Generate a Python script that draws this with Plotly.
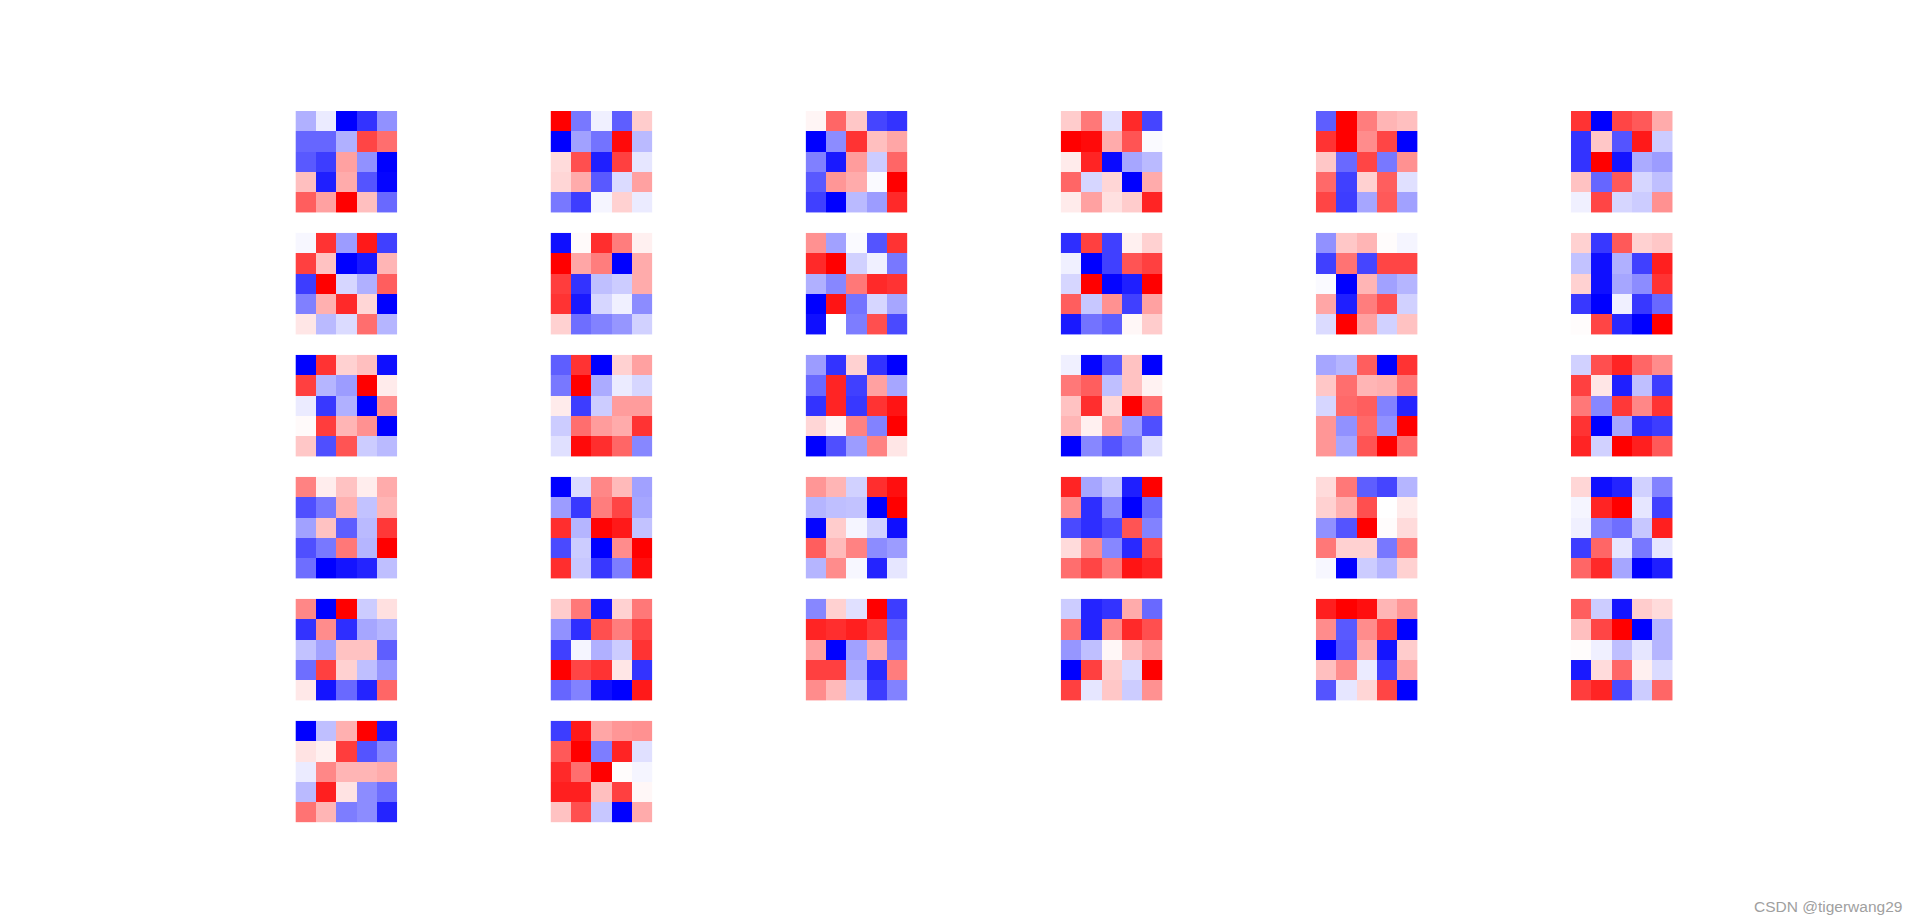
import plotly.graph_objects as go

# 32 learned 5x5 filters (values on a -1..1 scale, rows top to bottom), in grid order
filter_01 = [[-0.31, -0.08, -1.0, -0.8, -0.43], [-0.6, -0.6, -0.31, 0.73, 0.57], [-0.65, -0.76, 0.37, -0.43, -1.0], [0.25, -0.88, 0.33, -0.67, -0.98], [0.63, 0.37, 1.0, 0.25, -0.59]]
filter_02 = [[1.0, -0.53, -0.06, -0.63, 0.2], [-1.0, -0.37, -0.55, 0.96, -0.27], [0.14, 0.69, -0.88, 0.75, -0.1], [0.16, 0.33, -0.65, -0.14, 0.37], [-0.53, -0.76, -0.04, 0.18, -0.08]]
filter_03 = [[0.04, 0.6, 0.22, -0.73, -0.8], [-1.0, -0.45, 0.8, 0.25, 0.35], [-0.5, -0.9, 0.39, -0.2, 0.6], [-0.65, 0.41, 0.33, -0.02, 1.0], [-0.75, -1.0, -0.27, -0.39, 0.84]]
filter_04 = [[0.2, 0.53, -0.12, 0.84, -0.73], [1.0, 0.96, 0.33, 0.67, -0.02], [0.08, 0.86, -0.96, -0.35, -0.27], [0.6, -0.16, 0.16, -1.0, 0.33], [0.08, 0.37, 0.12, 0.2, 0.86]]
filter_05 = [[-0.63, 1.0, 0.51, 0.29, 0.25], [0.8, 1.0, 0.45, 0.73, -1.0], [0.22, -0.59, 0.73, -0.53, 0.43], [0.59, -0.75, 0.18, 0.63, -0.12], [0.73, -0.76, -0.35, 0.65, -0.37]]
filter_06 = [[0.8, -1.0, 0.73, 0.65, 0.33], [-0.8, 0.22, -0.67, 0.9, -0.2], [-0.8, 1.0, -0.92, -0.33, -0.39], [0.24, -0.6, 0.65, -0.16, -0.25], [-0.06, 0.73, -0.16, -0.2, 0.43]]
filter_07 = [[-0.03, 0.8, -0.39, 0.9, -0.75], [0.75, 0.24, -1.0, -0.9, 0.29], [-0.76, 1.0, -0.16, -0.31, 0.63], [-0.5, 0.31, 0.84, 0.16, -1.0], [0.1, -0.27, -0.14, 0.57, -0.29]]
filter_08 = [[-0.94, 0.02, 0.82, 0.51, 0.06], [1.0, 0.35, 0.51, -1.0, 0.33], [0.76, -0.8, -0.25, -0.2, 0.33], [0.8, -0.9, -0.16, -0.06, -0.45], [0.18, -0.57, -0.49, -0.41, -0.18]]
filter_09 = [[0.43, -0.37, -0.02, -0.67, 0.8], [0.84, 1.0, -0.18, -0.06, -0.53], [-0.31, -0.47, 0.53, 0.84, 0.8], [-1.0, 0.92, -0.55, -0.16, -0.35], [-0.94, 0.0, -0.51, 0.69, -0.71]]
filter_10 = [[-0.82, 0.75, -0.75, 0.06, 0.18], [-0.06, -1.0, -0.75, 0.67, 0.75], [-0.16, 1.0, -0.98, -0.88, 1.0], [0.63, -0.22, 0.43, -0.75, 0.37], [-0.9, -0.55, -0.63, 0.03, 0.2]]
filter_11 = [[-0.43, 0.22, 0.29, 0.01, -0.04], [-0.75, 0.55, -0.73, 0.73, 0.73], [-0.02, -1.0, 0.29, -0.37, -0.29], [0.35, -0.88, 0.51, 0.69, -0.18], [-0.14, 1.0, 0.37, -0.18, 0.24]]
filter_12 = [[0.18, -0.78, 0.65, 0.18, 0.22], [-0.24, -0.94, -0.31, -0.75, 0.88], [0.18, -0.94, -0.35, -0.45, 0.8], [-0.78, -1.0, -0.06, -0.78, -0.59], [0.01, 0.73, -0.84, -1.0, 1.0]]
filter_13 = [[-1.0, 0.8, 0.18, 0.25, -0.94], [0.75, -0.29, -0.39, 1.0, 0.08], [-0.08, -0.78, -0.31, -1.0, 0.45], [0.02, 0.76, 0.29, 0.43, -1.0], [0.22, -0.69, 0.67, -0.2, -0.27]]
filter_14 = [[-0.63, 0.8, -1.0, 0.18, 0.37], [-0.53, 1.0, -0.33, -0.08, -0.16], [0.08, -0.76, -0.2, 0.39, 0.39], [-0.2, 0.57, 0.39, 0.33, 0.8], [-0.12, 0.96, 0.82, 0.6, -0.47]]
filter_15 = [[-0.39, -0.8, 0.18, -0.8, -1.0], [-0.59, 0.86, -0.75, 0.37, -0.35], [-0.8, 0.86, -0.78, 0.8, 0.92], [0.16, 0.04, 0.49, -0.49, 1.0], [-1.0, -0.69, -0.39, 0.49, 0.1]]
filter_16 = [[-0.06, -0.98, -0.65, 0.24, -1.0], [0.53, 0.63, -0.25, 0.24, 0.05], [0.24, 0.82, 0.16, 1.0, 0.57], [0.29, 0.06, 0.37, -0.39, -0.69], [-1.0, -0.47, -0.67, -0.51, -0.14]]
filter_17 = [[-0.35, -0.29, 0.63, -1.0, 0.8], [0.22, 0.57, 0.29, 0.31, 0.53], [-0.16, 0.59, 0.63, -0.49, -0.86], [0.41, -0.43, 0.59, -0.43, 1.0], [0.41, -0.35, 0.67, 1.0, 0.57]]
filter_18 = [[-0.18, 0.69, 0.86, 0.6, 0.45], [0.75, 0.1, -0.88, -0.25, -0.76], [0.53, -0.47, 0.78, 0.47, 0.8], [0.8, -1.0, -0.35, -0.82, -0.76], [0.86, -0.18, 1.0, 0.88, 0.65]]
filter_19 = [[0.49, 0.07, 0.24, 0.07, 0.33], [-0.69, -0.53, 0.31, -0.24, 0.29], [-0.37, 0.24, -0.63, -0.27, 0.78], [-0.69, -0.53, 0.53, -0.29, 1.0], [-0.57, -1.0, -0.92, -0.86, -0.25]]
filter_20 = [[-1.0, -0.14, 0.47, 0.27, -0.37], [-0.39, -0.78, 0.51, 0.73, -0.35], [0.82, -0.29, 0.98, 0.9, -0.24], [-0.71, -0.2, -1.0, 0.45, 1.0], [0.82, -0.22, -0.78, -0.51, 0.94]]
filter_21 = [[0.41, 0.29, -0.18, 0.82, 0.94], [-0.29, -0.25, -0.24, -1.0, 1.0], [-0.98, 0.2, -0.04, -0.18, -0.94], [0.63, 0.27, 0.49, -0.45, -0.39], [-0.29, 0.45, -0.03, -0.86, -0.1]]
filter_22 = [[0.86, -0.35, -0.22, -0.88, 1.0], [0.45, -0.82, -0.47, -1.0, -0.59], [-0.71, -0.82, -0.71, 0.67, -0.49], [0.14, 0.45, -0.47, -0.84, 0.71], [0.57, 0.73, 0.53, 0.92, 0.86]]
filter_23 = [[0.14, 0.53, -0.63, -0.73, -0.29], [0.18, 0.31, 0.69, 0.0, 0.08], [-0.43, -0.67, 1.0, 0.01, 0.14], [0.53, 0.18, 0.18, -0.53, 0.51], [-0.03, -1.0, -0.2, -0.29, 0.18]]
filter_24 = [[0.16, -0.94, -0.86, -0.18, -0.49], [-0.04, 0.86, 1.0, -0.1, -0.75], [-0.06, -0.49, -0.57, -0.22, 0.88], [-0.76, 0.6, -0.1, -0.53, -0.1], [0.6, 0.84, -0.35, -1.0, -0.88]]
filter_25 = [[0.47, -1.0, 1.0, -0.2, 0.12], [-0.8, 0.45, -0.82, -0.35, -0.29], [-0.24, -0.37, 0.24, 0.24, -0.63], [-0.57, 0.75, 0.18, -0.25, -0.41], [0.09, -0.92, -0.59, -0.86, 0.6]]
filter_26 = [[0.2, 0.53, -0.92, 0.18, 0.53], [-0.43, -0.82, 0.69, 0.51, 0.73], [-0.75, -0.04, -0.31, -0.2, 0.8], [1.0, 0.73, 0.8, 0.1, -0.8], [-0.6, -0.49, -0.94, -1.0, 0.9]]
filter_27 = [[-0.47, 0.18, -0.12, 1.0, -0.76], [0.86, 0.82, 0.88, 0.78, -0.63], [0.37, -1.0, -0.37, 0.33, -0.55], [0.75, 0.75, -0.33, -0.84, 0.51], [0.45, 0.27, -0.22, -0.76, -0.49]]
filter_28 = [[-0.2, -0.86, -0.8, 0.33, -0.59], [0.55, -0.86, 0.47, 0.84, 0.69], [-0.41, -0.25, 0.03, 0.27, 0.41], [-1.0, 0.75, 0.2, -0.14, 1.0], [0.75, -0.1, 0.22, -0.2, 0.43]]
filter_29 = [[0.88, 1.0, 0.94, 0.29, 0.41], [0.45, -0.65, 0.45, 0.73, -1.0], [-1.0, -0.67, 0.33, -0.92, 0.2], [0.25, 0.45, -0.08, -0.75, 0.35], [-0.67, -0.1, 0.16, 0.73, -1.0]]
filter_30 = [[0.63, -0.2, -0.92, 0.2, 0.14], [0.25, 0.73, 1.0, -1.0, -0.29], [0.01, -0.06, -0.25, -0.1, -0.29], [-0.9, 0.14, 0.6, 0.06, -0.14], [0.76, 0.86, -0.71, -0.2, 0.6]]
filter_31 = [[-1.0, -0.25, 0.31, 1.0, -0.9], [0.11, 0.06, 0.76, -0.67, -0.47], [-0.08, 0.47, 0.29, 0.29, 0.33], [-0.27, 0.88, 0.11, -0.45, -0.57], [0.55, 0.29, -0.51, -0.45, -0.86]]
filter_32 = [[-0.76, 0.9, 0.35, 0.41, 0.43], [0.65, 1.0, -0.51, 0.86, -0.12], [0.84, 0.57, 1.0, 0.01, -0.04], [0.88, 0.88, 0.25, 0.75, 0.03], [0.24, 0.69, -0.22, -1.0, 0.33]]

filters = [filter_01, filter_02, filter_03, filter_04, filter_05, filter_06,
           filter_07, filter_08, filter_09, filter_10, filter_11, filter_12,
           filter_13, filter_14, filter_15, filter_16, filter_17, filter_18,
           filter_19, filter_20, filter_21, filter_22, filter_23, filter_24,
           filter_25, filter_26, filter_27, filter_28, filter_29, filter_30,
           filter_31, filter_32]

# reference canvas is 1920x924; the page body has an 8px margin, so the figure is shrunk by 16px
REF_W, REF_H = 1920, 924
OFF = 8
W, H = REF_W - 2 * OFF, REF_H - 2 * OFF
n_rows, n_cols = 6, 6
left, right, bottom, top = 0.125, 0.9, 0.11, 0.88
wspace = hspace = 0.2

cell_w = (right - left) * REF_W / (n_cols + (n_cols - 1) * wspace)
cell_h = (top - bottom) * REF_H / (n_rows + (n_rows - 1) * hspace)
side = min(cell_w, cell_h)

bwr = [[0.0, "rgb(0,0,255)"], [0.5, "rgb(255,255,255)"], [1.0, "rgb(255,0,0)"]]

fig = go.Figure()
layout_axes = {}
for i, f in enumerate(filters):
    r, c = divmod(i, n_cols)
    cx = left * REF_W + c * cell_w * (1 + wspace) + cell_w / 2 - OFF
    cy = (1 - top) * REF_H + r * cell_h * (1 + hspace) + cell_h / 2 - OFF
    x0, x1 = (cx - side / 2) / W, (cx + side / 2) / W
    y0, y1 = 1 - (cy + side / 2) / H, 1 - (cy - side / 2) / H
    k = "" if i == 0 else str(i + 1)
    fig.add_trace(go.Heatmap(z=f, colorscale=bwr, zmin=-1, zmax=1, showscale=False,
                             xaxis="x" + k, yaxis="y" + k, hoverinfo="z"))
    layout_axes["xaxis" + k] = dict(domain=[x0, x1], range=[-0.5, 4.5], visible=False,
                                    anchor="y" + k, fixedrange=True)
    layout_axes["yaxis" + k] = dict(domain=[y0, y1], range=[4.5, -0.5], visible=False,
                                    anchor="x" + k, fixedrange=True)

fig.update_layout(**layout_axes)
fig.update_layout(
    width=W, height=H,
    margin=dict(l=0, r=0, t=0, b=0),
    paper_bgcolor="white", plot_bgcolor="white",
    showlegend=False,
    annotations=[dict(text="CSDN @tigerwang29", xref="paper", yref="paper",
                      x=(1904 - OFF) / W, y=1 - (906 - OFF) / H, xanchor="right", yanchor="middle",
                      showarrow=False, font=dict(family="Liberation Sans, Arial", size=15.5, color="#a0a0a0"))],
)

fig.write_html("out.html")
